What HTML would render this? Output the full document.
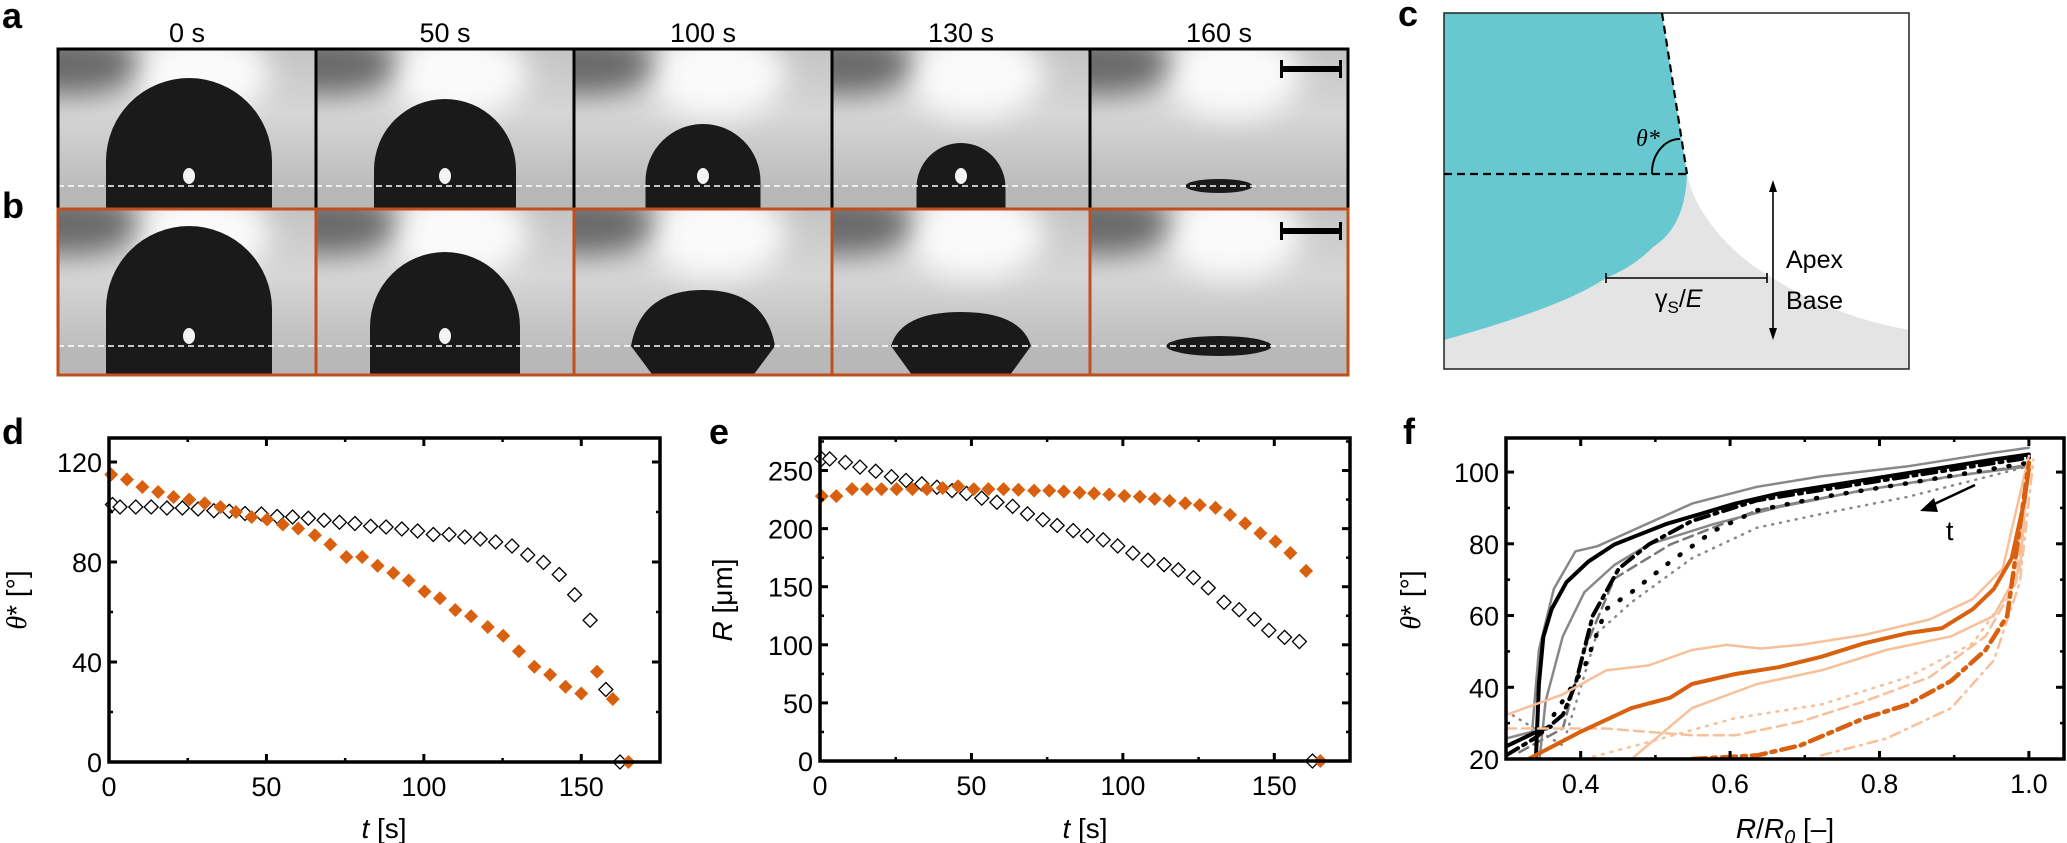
<!DOCTYPE html>
<html><head><meta charset="utf-8">
<style>
html,body{margin:0;padding:0;background:#fff;}
svg{display:block;font-family:"Liberation Sans",sans-serif;}
</style></head>
<body>
<svg id="fig" width="2067" height="843" viewBox="0 0 2067 843" xmlns="http://www.w3.org/2000/svg">
<defs>
  <linearGradient id="bgA" x1="0" y1="0" x2="0" y2="1">
    <stop offset="0" stop-color="#c4c4c4"/><stop offset="0.4" stop-color="#d6d6d6"/><stop offset="1" stop-color="#b4b4b4"/>
  </linearGradient>
  <filter id="blur" x="-50%" y="-50%" width="200%" height="200%"><feGaussianBlur stdDeviation="14"/></filter>
  <clipPath id="clipF"><rect x="1506" y="438" width="558" height="321"/></clipPath>
</defs>

<!-- panel labels -->
<text x="2" y="28" font-size="36" font-weight="bold">a</text>
<text x="2" y="218" font-size="36" font-weight="bold">b</text>
<text x="1398" y="26" font-size="36" font-weight="bold">c</text>
<text x="2" y="444" font-size="36" font-weight="bold">d</text>
<text x="709" y="444" font-size="36" font-weight="bold">e</text>
<text x="1403" y="444" font-size="36" font-weight="bold">f</text>

<g id="photos"></g>

<!-- panel c schematic -->
<g>
  <rect x="1444" y="13" width="465" height="356" fill="#fff"/>
  <path d="M1444,13 L1662,13 L1687,174 C1695,215 1735,258 1773,278 C1810,303 1860,321 1909,330 L1909,369 L1444,369 Z" fill="#e4e4e4"/>
  <path d="M1444,13 L1662,13 L1687,174 C1686,200 1680,230 1653,247 C1635,265 1620,272 1606,278 C1580,295 1540,313 1444,340 Z" fill="#67c8d0"/>
  <rect x="1444" y="13" width="465" height="356" fill="none" stroke="#222" stroke-width="1.5"/>
  <line x1="1662" y1="13" x2="1687" y2="174" stroke="#000" stroke-width="2.2" stroke-dasharray="8,5"/>
  <line x1="1444" y1="174" x2="1687" y2="174" stroke="#000" stroke-width="2.2" stroke-dasharray="8,5"/>
  <path d="M1652,174 A28,34 0 0 1 1680,139" fill="none" stroke="#000" stroke-width="2"/>
  <text x="1636" y="146" font-size="24" font-style="italic" font-family="'Liberation Serif',serif">θ*</text>
  <line x1="1773" y1="186" x2="1773" y2="334" stroke="#000" stroke-width="1.6"/>
  <path d="M1773,180 L1769,192 L1777,192 Z M1773,340 L1769,328 L1777,328 Z" fill="#000"/>
  <line x1="1606" y1="278" x2="1767" y2="278" stroke="#000" stroke-width="1.6"/>
  <line x1="1606" y1="273" x2="1606" y2="283" stroke="#000" stroke-width="1.6"/>
  <line x1="1767" y1="273" x2="1767" y2="283" stroke="#000" stroke-width="1.6"/>
  <text x="1786" y="268" font-size="25">Apex</text>
  <text x="1786" y="309" font-size="25">Base</text>
  <text x="1655" y="307" font-size="25">γ<tspan font-size="17" dy="6">S</tspan><tspan dy="-6">/</tspan><tspan font-style="italic">E</tspan></text>
</g>

<g id="chartD"></g>
<g id="chartE"></g>
<g id="chartF"></g>
</svg>

<script>
// ---------- data: panel d (contact angle vs time) ----------
const dOrangeT = [0.7,5.7,10.6,15.6,20.5,25.5,30.4,35.4,40.3,45.3,50.2,55.2,60.1,65.4,70.3,75.4,80.4,85.3,90.3,95.2,100.2,105.1,110,115,120.3,125.2,130.2,135.1,140.1,145,150,155,160,165];
const dOrangeY = [115,113,110,108,106,105,103.5,102,100,98,97,95,93.4,90.7,87,82,82,78.5,75.6,72.6,68.2,65.5,60.8,58.3,54,50.5,44.3,38.1,34.9,30.1,27.4,36.1,25.2,0];
const dBlackT = [1.1,3.5,8.5,13.4,18.4,23.3,28.3,33.3,38.2,43.2,48.4,53.4,58.3,63.3,68.3,73.2,78.1,83.1,88,93,98,103,108,113,117.9,122.8,128,133,138,143,147.9,152.8,157.8,162.3];
const dBlackY = [103,102,102,102,101.6,101.6,101.2,100.5,100.3,99.4,99.2,98.2,98,97.5,96.7,95.9,95.4,94.3,94,93.2,92.4,91,91,90,89.2,88,86.4,82.8,79.8,75,66.9,56.7,29,0];
const dXTicks = [0,50,100,150];
const dYTicks = [0,40,80,120];

// ---------- data: panel e (radius vs time) ----------
const eOrangeT = [0.6,5.4,10.6,15.5,20.3,25.3,30.5,35.3,40.5,45.6,50.8,55.6,60.6,65.5,70.7,75.7,80.5,85.7,90.5,95.5,100.5,105.6,110.5,115.4,120.6,125.4,130.6,135.4,140.4,145.4,150.4,155.3,160.5,165.2];
const eOrangeR = [228,228,234,234,234,234,234,234,235,236.5,234,234,234,233.5,232.7,232.7,232,231,230.3,229.4,228.2,227.4,225.6,223.9,221.8,220.3,218,211.8,204.5,196,188.9,179,163.6,0];
const eBlackT = [0.6,3.2,8.4,13.2,18.4,23.6,28.4,33.6,38.6,43.6,48.4,53.4,58.4,63.6,68.5,73.6,78.3,83.6,88.3,93.5,98.3,103.3,108.3,113.6,118.3,123.3,128.2,133.4,138.4,143.4,148.2,153.4,158.3,162.6];
const eBlackR = [260,260,257,253,249.4,244.7,241.5,238.5,235.6,232.7,230.3,226.2,222.7,219.2,212.7,207.7,202.7,198.3,193.9,190.4,185.1,178.9,172.8,169,164.5,157.8,149,136.6,130.2,122,112.5,106.4,102.8,0];
const eXTicks = [0,50,100,150];
const eYTicks = [0,50,100,150,200,250];

// ---------- data: panel f (theta vs R/R0) ----------
const fBlackSolidX = [0.34,0.344,0.35,0.361,0.381,0.41,0.445,0.468,0.514,0.56,0.607,0.665,0.722,0.78,0.838,0.896,0.953,1.0];
const fBlackSolidY = [20,40.9,54,61.8,69.3,75,79.8,81.7,85.5,88.3,91.2,94,95.9,97.8,99.7,101.6,103.5,104.9];
const fBlackLeftX = [0.3,0.315,0.33,0.345,0.36];
const fBlackLeftY = [23.5,25,26.5,28,29];
const fGrayUpX = [0.3,0.335,0.344,0.364,0.393,0.422,0.468,0.549,0.636,0.722,0.838,0.953,1.0];
const fGrayUpY = [25.7,27.6,50.4,67.4,77.9,79.3,83.6,91.2,95.9,98.8,101.6,105.4,106.8];
const fGrayLowX = [0.345,0.353,0.376,0.405,0.445,0.491,0.578,0.665,0.78,0.896,1.0];
const fGrayLowY = [20,36.1,54.2,66.5,74.1,79.8,85.5,90.2,95,98.8,101.6];
const fBlackDashX = [0.3,0.34,0.376,0.393,0.416,0.451,0.491,0.549,0.636,0.722,0.838,1.0];
const fBlackDashY = [21,26,32.3,40.9,59.9,73.1,79.8,86.4,92.1,95,98.8,104];
const fBlackDotX = [0.364,0.405,0.434,0.468,0.52,0.578,0.636,0.722,0.838,1.0];
const fBlackDotY = [32.3,45.6,61.8,66.5,75,83.6,89.3,93,96.9,102.6];
const fGrayDotX = [0.3,0.376,0.393,0.422,0.468,0.549,0.636,0.722,0.838,1.0];
const fGrayDotY = [33.3,23.8,35.2,55.1,63.7,76,84.5,88.3,93.1,101.6];
const fGrayDashX = [0.318,0.376,0.405,0.445,0.52,0.636,0.78,1.0];
const fGrayDashY = [21.9,28.5,50.4,70.3,79.8,89.3,95,102];
const fOrSolidX = [0.33,0.4,0.468,0.52,0.549,0.607,0.665,0.722,0.78,0.838,0.884,0.925,0.953,0.977,0.994,1.0];
const fOrSolidY = [20,27.6,34.2,37.1,40.9,43.7,45.6,48.5,52.3,55.1,56.5,61.8,67.4,76,92.1,100.7];
const fLtUpX = [0.3,0.376,0.434,0.491,0.549,0.595,0.641,0.694,0.78,0.867,0.925,0.965,1.0];
const fLtUpY = [32.3,38,44.7,46.1,50.4,51.8,50.8,51.8,54.6,58.9,64.6,73.1,104.5];
const fLtLowX = [0.468,0.549,0.636,0.722,0.809,0.896,0.953,0.988,1.0];
const fLtLowY = [20,34.2,40.9,44.7,50.4,54.2,59.9,73.1,102.6];
const fOrDashDotX = [0.549,0.636,0.694,0.78,0.838,0.896,0.942,0.971,1.0];
const fOrDashDotY = [20,21,23.8,31.4,35.2,41.8,50.4,59.9,102.6];
const fLtDashX = [0.3,0.434,0.549,0.607,0.694,0.78,0.867,0.942,0.983,1.0];
const fLtDashY = [28.5,28.5,26.6,26.6,30.4,36.1,42.8,54.2,69.3,101.6];
const fLtDash2X = [0.722,0.809,0.896,0.953,0.988,1.006];
const fLtDash2Y = [21,25.7,34.2,47.5,69.3,103.5];
const fLtDotX = [0.405,0.491,0.607,0.722,0.838,0.925,0.977,1.0];
const fLtDotY = [20,24.7,31.4,35.2,42.8,52.3,67.4,99.7];
const fXTicks = [0.4,0.6,0.8,1.0];
const fXTickLabels = ["0.4","0.6","0.8","1.0"];
const fYTicks = [20,40,60,80,100];

const timeLabels = ["0 s","50 s","100 s","130 s","160 s"];

const NS = "http://www.w3.org/2000/svg";
function mk(tag, attrs, parent){ const e=document.createElementNS(NS,tag); for(const k in attrs) e.setAttribute(k,attrs[k]); if(parent) parent.appendChild(e); return e; }
function txt(parent, x, y, s, attrs){ const t=mk('text',Object.assign({x:x,y:y},attrs||{}),parent); t.textContent=s; return t; }

// ---------- photos ----------
(function(){
  const g=document.getElementById('photos');
  const x0=58, cw=258;
  const rows=[{y:49,h:160,base:186,col:'#000'},{y:209,h:166,base:346,col:'#bf4f1e'}];
  const dropsA=[
    {w:166,top:78},{w:142,top:99},{w:115,top:124},{w:89,top:143},{lens:true,w:67,h:14}
  ];
  const dropsB=[
    {w:166,top:226},{w:150,top:252},{cap:true,w:144,top:290},{cap:true,w:140,top:312},{lens:true,w:105,h:20}
  ];
  for(let i=0;i<5;i++){
    const lab=txt(g, x0+cw*i+cw/2, 42, timeLabels[i], {'font-size':'27','text-anchor':'middle'});
    
    
  }
  rows.forEach((r,ri)=>{
    for(let i=0;i<5;i++){
      const cx=x0+cw*i, cell=mk('g',{},g);
      
      
      const cp=mk('clipPath',{id:'cp'+ri+'_'+i},cell);
      mk('rect',{x:cx,y:r.y,width:cw,height:r.h},cp);
      const inner=mk('g',{'clip-path':'url(#cp'+ri+'_'+i+')'},cell);
      mk('rect',{x:cx,y:r.y,width:cw,height:r.h,fill:'url(#bgA)'},inner);
      mk('ellipse',{cx:cx+cw*0.55,cy:r.y+25,rx:70,ry:45,fill:'#fafafa',filter:'url(#blur)'},inner);
      mk('ellipse',{cx:cx+10,cy:r.y+15,rx:70,ry:30,fill:'#6a6a6a',filter:'url(#blur)'},inner);
      mk('rect',{x:cx,y:r.base,width:cw,height:r.y+r.h-r.base,fill:'#b8b8b8'},inner);
      const d=(ri===0?dropsA:dropsB)[i];
      const mx=cx+cw/2+(i===0?2:0);
      if(d.lens){
        mk('ellipse',{cx:mx,cy:r.base,rx:d.w/2,ry:d.h/2,fill:'#1a1a1a'},inner);
      } else if(d.cap){
        mk('path',{d:`M${mx-d.w/2},${r.base} Q${mx-d.w/2+10},${d.top} ${mx},${d.top} Q${mx+d.w/2-10},${d.top} ${mx+d.w/2},${r.base} L${mx+d.w*0.35},${r.y+r.h} L${mx-d.w*0.35},${r.y+r.h} Z`,fill:'#1a1a1a'},inner);
      } else {
        const rx=d.w/2;
        const ry=Math.max(rx,(r.base-d.top)*0.62);
        mk('path',{d:`M${mx-rx},${r.y+r.h} L${mx-rx},${d.top+ry} A${rx},${ry} 0 0 1 ${mx+rx},${d.top+ry} L${mx+rx},${r.y+r.h} Z`,fill:'#1a1a1a'},inner);
        mk('ellipse',{cx:mx,cy:r.base-10,rx:6,ry:8,fill:'#f4f4f4'},inner);
      }
      mk('line',{x1:cx,y1:r.base,x2:cx+cw,y2:r.base,stroke:'#fff','stroke-width':1.6,'stroke-dasharray':'6,4'},inner);
      mk('rect',{x:cx,y:r.y,width:cw,height:r.h,fill:'none',stroke:r.col,'stroke-width':3},cell);
    }
    const sb=mk('g',{},g);
    
    
    const sy=r.y+(ri===0?17:19);
    mk('rect',{x:1280,y:sy,width:62,height:6,fill:'#000'},sb);
    mk('rect',{x:1280,y:sy-6,width:3,height:18,fill:'#000'},sb);
    mk('rect',{x:1339,y:sy-6,width:3,height:18,fill:'#000'},sb);
  });
})();

// ---------- generic axes ----------
function makeAxes(g, box, xd, yd){
  const sx=v=>box.l+(v-xd[0])/(xd[1]-xd[0])*(box.r-box.l);
  const sy=v=>box.b-(v-yd[0])/(yd[1]-yd[0])*(box.b-box.t);
  return {sx,sy};
}
function drawFrame(g, box, sx, sy, xMaj, xMin, yMaj, yMin, xLabels, yLabels){
  mk('rect',{x:box.l,y:box.t,width:box.r-box.l,height:box.b-box.t,fill:'none',stroke:'#000','stroke-width':3.5},g);
  xMaj.forEach((v,i)=>{
    const x=sx(v);
    mk('line',{x1:x,y1:box.b,x2:x,y2:box.b-8,stroke:'#000','stroke-width':3},g);
    mk('line',{x1:x,y1:box.t,x2:x,y2:box.t+8,stroke:'#000','stroke-width':3},g);
    const t=txt(g,x,box.b+34,xLabels[i],{'font-size':'27','text-anchor':'middle'});
    
    
  });
  xMin.forEach(v=>{ const x=sx(v);
    mk('line',{x1:x,y1:box.b,x2:x,y2:box.b-4,stroke:'#000','stroke-width':2.5},g);
    mk('line',{x1:x,y1:box.t,x2:x,y2:box.t+4,stroke:'#000','stroke-width':2.5},g);});
  yMaj.forEach((v,i)=>{
    const y=sy(v);
    mk('line',{x1:box.l,y1:y,x2:box.l+8,y2:y,stroke:'#000','stroke-width':3},g);
    mk('line',{x1:box.r,y1:y,x2:box.r-8,y2:y,stroke:'#000','stroke-width':3},g);
    const t=txt(g,box.l-7,y+10,yLabels[i],{'font-size':'27','text-anchor':'end'});
    
    
  });
  yMin.forEach(v=>{ const y=sy(v);
    mk('line',{x1:box.l,y1:y,x2:box.l+4,y2:y,stroke:'#000','stroke-width':2.5},g);
    mk('line',{x1:box.r,y1:y,x2:box.r-4,y2:y,stroke:'#000','stroke-width':2.5},g);});
}
function diamond(g, x, y, filled, name){
  const s=7;
  const p=mk('path',{d:`M${x},${y-s} L${x+s},${y} L${x},${y+s} L${x-s},${y} Z`,
    fill: filled?'#d9600e':'#fff', stroke: filled?'none':'#000','stroke-width':1.3},g);
  
  
}

// ---------- panel d ----------
(function(){
  const g=document.getElementById('chartD');
  const box={l:109,r:660,t:438,b:762};
  const {sx,sy}=makeAxes(g,box,[0,175],[0,129.6]);
  dBlackT.forEach((t,i)=>diamond(g,sx(t),sy(dBlackY[i]),false,'marker-angle-black'));
  dOrangeT.forEach((t,i)=>diamond(g,sx(t),sy(dOrangeY[i]),true,'marker-angle-orange'));
  drawFrame(g,box,sx,sy,dXTicks,[25,75,125],dYTicks,[20,60,100],dXTicks.map(String),dYTicks.map(String));
  const xl=txt(g,384,838,'',{'font-size':'28','text-anchor':'middle'});
  xl.innerHTML='<tspan font-style="italic">t</tspan> [s]';
  
  
  const yl=txt(g,0,0,'',{'font-size':'28','text-anchor':'middle',transform:'translate(26,600) rotate(-90)'});
  yl.innerHTML='<tspan font-style="italic" font-family="Liberation Serif, serif">θ</tspan>* [°]';
  
  
})();

// ---------- panel e ----------
(function(){
  const g=document.getElementById('chartE');
  const box={l:820,r:1350,t:438,b:761};
  const {sx,sy}=makeAxes(g,box,[0,175],[0,278]);
  eBlackT.forEach((t,i)=>diamond(g,sx(t),sy(eBlackR[i]),false,'marker-radius-black'));
  eOrangeT.forEach((t,i)=>diamond(g,sx(t),sy(eOrangeR[i]),true,'marker-radius-orange'));
  drawFrame(g,box,sx,sy,eXTicks,[25,75,125],eYTicks,[25,75,125,175,225,275],eXTicks.map(String),eYTicks.map(String));
  const xl=txt(g,1085,838,'',{'font-size':'28','text-anchor':'middle'});
  xl.innerHTML='<tspan font-style="italic">t</tspan> [s]';
  
  
  const yl=txt(g,0,0,'',{'font-size':'28','text-anchor':'middle',transform:'translate(732,600) rotate(-90)'});
  yl.innerHTML='<tspan font-style="italic">R</tspan> [μm]';
  
  
})();

// ---------- panel f ----------
(function(){
  const g=document.getElementById('chartF');
  const box={l:1506,r:2064,t:438,b:759};
  const {sx,sy}=makeAxes(g,box,[0.3,1.047],[20,109.5]);
  const lines=mk('g',{'clip-path':'url(#clipF)'},g);
  function line(xs,ys,color,w,dash,name){
    const d=xs.map((x,i)=>(i?'L':'M')+sx(x).toFixed(1)+','+sy(ys[i]).toFixed(1)).join(' ');
    const p=mk('path',{d:d,fill:'none',stroke:color,'stroke-width':w,'stroke-linejoin':'round','stroke-linecap':'round'},lines);
    if(dash) p.setAttribute('stroke-dasharray',dash);
    
    
  }
  line(fGrayDotX,fGrayDotY,'#888',2.5,'1,7','curve-gray-dotted');
  line(fGrayDashX,fGrayDashY,'#777',2.5,'10,6','curve-gray-dashed');
  line(fGrayUpX,fGrayUpY,'#888',2.5,null,'curve-gray-solid-upper');
  line(fGrayLowX,fGrayLowY,'#888',2.5,null,'curve-gray-solid-lower');
  line(fBlackDotX,fBlackDotY,'#000',4.5,'1,14','curve-black-dotted');
  line(fBlackDashX,fBlackDashY,'#000',4,'14,6,3,6','curve-black-dashdot');
  line(fBlackLeftX,fBlackLeftY,'#000',4,null,'curve-black-left');
  line(fBlackSolidX,fBlackSolidY,'#000',4,null,'curve-black-solid');
  line(fLtDotX,fLtDotY,'#f7c09a',2.5,'2,7','curve-lightorange-dotted');
  line(fLtDashX,fLtDashY,'#f7c09a',2.5,'10,6','curve-lightorange-dashed');
  line(fLtDash2X,fLtDash2Y,'#f7c09a',2.5,'10,6,2,6','curve-lightorange-dashdot');
  line(fLtUpX,fLtUpY,'#f7c09a',2.5,null,'curve-lightorange-solid-upper');
  line(fLtLowX,fLtLowY,'#f7c09a',2.5,null,'curve-lightorange-solid-lower');
  line(fOrDashDotX,fOrDashDotY,'#d9600e',4.5,'14,6,4,6','curve-orange-dashdot');
  line(fOrSolidX,fOrSolidY,'#d9600e',4,null,'curve-orange-solid');
  drawFrame(g,box,sx,sy,fXTicks,[0.3,0.5,0.7,0.9],fYTicks,[30,50,70,90],fXTickLabels,fYTicks.map(String));
  const ar=mk('g',{},g);
  
  
  mk('line',{x1:1975,y1:485,x2:1928,y2:507,stroke:'#000','stroke-width':2.5},ar);
  mk('path',{d:'M1920,511 L1934,498 L1938,512 Z',fill:'#000'},ar);
  const tt=txt(g,1946,540,'t',{'font-size':'27'});
  
  
  const xl=txt(g,1785,838,'',{'font-size':'28','text-anchor':'middle'});
  xl.innerHTML='<tspan font-style="italic">R</tspan>/<tspan font-style="italic">R</tspan><tspan font-style="italic" font-size="20" dy="6">0</tspan><tspan dy="-6"> [–]</tspan>';
  
  
  const yl=txt(g,0,0,'',{'font-size':'28','text-anchor':'middle',transform:'translate(1420,600) rotate(-90)'});
  yl.innerHTML='<tspan font-style="italic" font-family="Liberation Serif, serif">θ</tspan>* [°]';
  
  
})();
</script>
</body></html>
